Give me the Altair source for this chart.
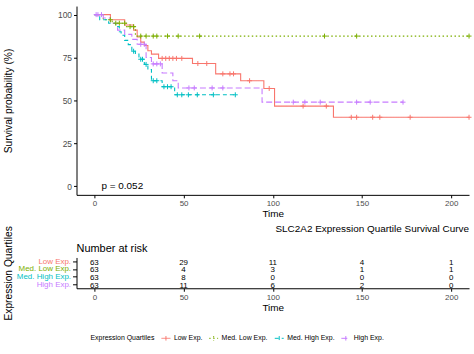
import altair as alt
import pandas as pd

FONT = "Liberation Sans"

groups = ["Low Exp.", "Med. Low Exp.", "Med. High Exp.", "High Exp."]
colors = ["#F8766D", "#7CAE00", "#00BFC4", "#C77CFF"]
dashes = [[1, 0], [1.5, 2.5], [4, 3], [6, 3]]

# Kaplan-Meier step points (time, survival %)
low_t = [0, 9, 17, 22, 24, 26, 28, 30, 32, 36, 55, 68, 82, 95, 101, 134, 210]
low_s = [100, 97, 94, 91, 87, 84, 82, 79, 77, 74.5, 71.5, 65.5, 61.5, 57, 46.7, 40.2, 40.2]
low_c = [38, 40, 42, 44, 46, 49, 58, 63, 72, 76, 78, 87, 98, 117, 130, 144, 147, 156, 160, 177, 210]

medlow_t = [0, 5, 10, 18, 23, 210]
medlow_s = [100, 97, 95, 93, 87.5, 87.5]
medlow_c = [9, 12, 14, 17, 20, 22, 26, 29, 33, 35, 41, 47, 59, 129, 147, 210]

medhigh_t = [0, 3, 8, 12, 14, 15, 17, 19, 21, 23, 25, 28, 30, 32, 38, 45, 79]
medhigh_s = [100, 97, 95, 93, 90, 88, 85, 82.5, 78.7, 77, 74, 71, 68, 61.5, 58, 53.3, 53.3]
medhigh_c = [22, 26, 27, 29, 33, 35, 39, 41, 43, 46.5, 49, 52.7, 57.7, 66.7, 79]

high_t = [0, 5, 9, 13, 17, 21, 24, 29, 32, 38, 44, 47, 94, 173]
high_s = [100, 98, 95, 91, 88.5, 85.6, 82.7, 75, 71.3, 66, 61.5, 57.3, 49, 49]
high_c = [1, 2, 4, 26, 28, 33, 35, 37, 53, 56, 66, 72, 111.5, 118, 126.6, 147, 154.6, 173]

# Number at risk
risk_times = [0, 50, 100, 150, 200]
risk_low = [63, 29, 11, 4, 1]
risk_medlow = [63, 4, 3, 1, 1]
risk_medhigh = [63, 8, 0, 0, 0]
risk_high = [63, 11, 6, 2, 0]

p_label = "p = 0.052"

curves = [(low_t, low_s, low_c), (medlow_t, medlow_s, medlow_c),
          (medhigh_t, medhigh_s, medhigh_c), (high_t, high_s, high_c)]
risks = [risk_low, risk_medlow, risk_medhigh, risk_high]


def step_val(ts, ss, t):
    v = ss[0]
    for ti, si in zip(ts, ss):
        if ti <= t:
            v = si
    return v


line_rows, cens_rows, risk_rows = [], [], []
for g, (ts, ss, cs) in zip(groups, curves):
    for t, s in zip(ts, ss):
        line_rows.append({"group": g, "time": t, "surv": s})
    for c in cs:
        cens_rows.append({"group": g, "time": c, "surv": step_val(ts, ss, c)})
for g, r in zip(groups, risks):
    for t, n in zip(risk_times, r):
        risk_rows.append({"group": g, "time": t, "n": str(n)})

lines_df = pd.DataFrame(line_rows)
cens_df = pd.DataFrame(cens_rows)
risk_df = pd.DataFrame(risk_rows)
p_df = pd.DataFrame({"time": [4], "surv": [0], "label": [p_label]})

xscale = alt.Scale(domain=[-10, 210], nice=False, zero=False)
color_scale = alt.Scale(domain=groups, range=colors)
xticks = [0, 50, 100, 150, 200]

x_axis = alt.Axis(values=xticks, title="Time", grid=False, tickSize=3, labelPadding=2,
                  titlePadding=1, labelFontSize=8, titleFontSize=10)

legend = alt.Legend(orient="none", legendX=14, legendY=329, direction="horizontal",
                    titleOrient="left", title="Expression Quartiles",
                    symbolType="M-1,0H1M0,-0.5V0.5", symbolSize=81, symbolStrokeWidth=1,
                    titleFontSize=7, labelFontSize=7, titleFontWeight="normal",
                    titleColor="#000000", labelColor="#000000", labelOffset=3,
                    columnPadding=4, titlePadding=6)

lines = alt.Chart(lines_df).mark_line(interpolate="step-after", strokeWidth=1.1).encode(
    x=alt.X("time:Q", scale=xscale, axis=x_axis),
    y=alt.Y("surv:Q", scale=alt.Scale(domain=[-5, 105], nice=False, zero=False),
            axis=alt.Axis(values=[0, 25, 50, 75, 100], title="Survival probability (%)",
                          grid=False, tickSize=3, labelPadding=2, labelFontSize=8.5,
                          titleFontSize=10.3, titleX=-68, titleY=95, titleBaseline="middle")),
    color=alt.Color("group:N", scale=color_scale, legend=legend),
    strokeDash=alt.StrokeDash("group:N", scale=alt.Scale(domain=groups, range=dashes), legend=None),
    detail="group:N",
)

cens = alt.Chart(cens_df).mark_point(shape="M-1,0H1M0,-1V1", size=25, filled=False,
                                      strokeWidth=1, opacity=1).encode(
    x="time:Q",
    y="surv:Q",
    color=alt.Color("group:N", scale=color_scale, legend=legend),
)

ptext = alt.Chart(p_df).mark_text(align="left", baseline="middle", fontSize=10,
                                  font=FONT, color="#000000").encode(
    x="time:Q", y="surv:Q", text="label:N")

top = alt.layer(lines, cens, ptext).properties(
    width=395, height=190,
    title=alt.TitleParams("SLC2A2 Expression Quartile Survival Curve", orient="bottom",
                          anchor="end", frame="group", fontSize=10, fontWeight="normal",
                          color="#000000", font=FONT, offset=5),
)

label_color = {
    "condition": [
        {"test": "datum.value == 'Low Exp.'", "value": colors[0]},
        {"test": "datum.value == 'Med. Low Exp.'", "value": colors[1]},
        {"test": "datum.value == 'Med. High Exp.'", "value": colors[2]},
    ],
    "value": colors[3],
}

bottom = alt.Chart(risk_df).mark_text(fontSize=8, font=FONT, color="#000000",
                                       baseline="middle", dy=1.5).encode(
    x=alt.X("time:Q", scale=xscale, axis=x_axis),
    y=alt.Y("group:N", sort=groups, scale=alt.Scale(type="point", domain=groups, padding=0.5),
            axis=alt.Axis(title="Expression Quartiles", tickSize=4, labelPadding=2,
                          labelFontSize=8, labelColor=label_color, titleFontSize=10.3,
                          titleX=-68, titleY=15.5, titleBaseline="middle")),
    text="n:N",
).properties(
    width=395, height=31,
    title=alt.TitleParams("Number at risk", anchor="start", frame="group", fontSize=11,
                          fontWeight="normal", color="#000000", font=FONT, offset=-29),
)

chart = alt.vconcat(top, bottom, spacing=63, bounds="flush").properties(
    padding={"left": 3, "top": 5, "right": 0, "bottom": 0}
).configure_axis(
    labelFont=FONT, titleFont=FONT, labelColor="#4D4D4D", titleColor="#000000",
    titleFontWeight="normal", domainColor="#000000", tickColor="#000000",
    domainWidth=1, tickWidth=1,
).configure_legend(labelFont=FONT, titleFont=FONT).configure_view(strokeWidth=0)

chart.save("out.html", embed_options={"renderer": "svg", "actions": False})
